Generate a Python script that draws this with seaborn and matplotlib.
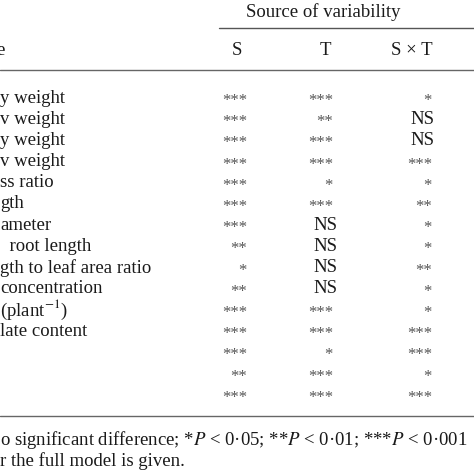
import matplotlib
matplotlib.use("Agg")
import matplotlib.pyplot as plt
import seaborn as sns

sns.set_theme(style="white")
plt.rcParams['font.family'] = ['Liberation Serif', 'DejaVu Serif']
plt.rcParams['mathtext.fontset'] = 'stix'

# table content (left side of the original is cropped away)
row_labels = ["y weight", "v weight", "y weight", "v weight", "ss ratio", "gth",
              "ameter", "  root length", "gth to leaf area ratio", "concentration",
              r"(plant$^{-1}$)", "late content", "", "", ""]
col_s = ["***", "***", "***", "***", "***", "***", "***", "**", "*", "**",
         "***", "***", "***", "**", "***"]
col_t = ["***", "**", "***", "***", "*", "***", "NS", "NS", "NS", "NS",
         "***", "***", "*", "***", "***"]
col_sxt = ["*", "NS", "NS", "***", "*", "**", "*", "*", "**", "*",
           "*", "***", "***", "*", "***"]
footnote = ["o significant difference; *$P$ < 0·05; **$P$ < 0·01; ***$P$ < 0·001",
            "r the full model is given."]

fig = plt.figure(figsize=(4.74, 4.74), dpi=100)
ax = fig.add_axes([0, 0, 1, 1])
ax.set_xlim(0, 474)
ax.set_ylim(474, 0)
ax.axis("off")

txt = dict(fontsize=13.5, color="#1a1a1a", va="center")
star = dict(fontsize=12, color="#555555", va="center")

ax.text(323, 12, "Source of variability", ha="center", **txt)
ax.plot([219, 474], [28, 28], color="#555555", lw=1)
ax.text(-4, 50, "e", ha="left", **txt)
ax.text(237, 50, "S", ha="center", **txt)
ax.text(325, 50, "T", ha="center", **txt)
ax.text(412, 50, "S × T", ha="center", **txt)
ax.plot([0, 474], [70, 70], color="#666666", lw=1)

y0, dy = 98, 21.2
for i, lab in enumerate(row_labels):
    y = y0 + i * dy
    ax.text(0, y, lab, ha="left", **txt)
    for val, xr, xc in [(col_s[i], 247, 237), (col_t[i], 333, 325), (col_sxt[i], 432, 422)]:
        if val == "NS":
            ax.text(xc, y, val, ha="center", **txt)
        else:
            ax.text(xr, y + 3, val, ha="right", **star)

ax.plot([0, 474], [416, 416], color="#666666", lw=1)
ax.text(0, 440, footnote[0], ha="left", **txt)
ax.text(0, 461, footnote[1], ha="left", **txt)

fig.savefig("out.png", dpi=100)
